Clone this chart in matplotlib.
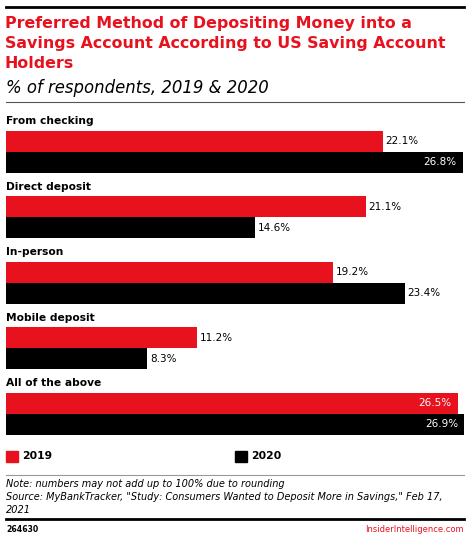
import matplotlib
matplotlib.use("Agg")
import matplotlib.pyplot as plt
from matplotlib.patches import Rectangle

# Dados do gráfico
categorias = ["From checking", "Direct deposit", "In-person", "Mobile deposit", "All of the above"]
valores_2019 = [22.1, 21.1, 19.2, 11.2, 26.5]
valores_2020 = [26.8, 14.6, 23.4, 8.3, 26.9]
anos = ["2019", "2020"]

titulo = ["Preferred Method of Depositing Money into a",
          "Savings Account According to US Saving Account",
          "Holders"]
subtitulo = "% of respondents, 2019 & 2020"
nota = ["Note: numbers may not add up to 100% due to rounding",
        'Source: MyBankTracker, "Study: Consumers Wanted to Deposit More in Savings," Feb 17,',
        "2021"]

VERMELHO = "#e8111e"
PRETO = "#000000"
W, H = 470, 539

plt.rcParams["font.family"] = ["DejaVu Sans"]

fig = plt.figure(figsize=(W / 100, H / 100), dpi=100)


def fx(px):
    return px / W


def fy(py):
    return 1 - py / H


# Eixo para as barras: x em %, y em pixels (de cima para baixo)
px_por_pct = 17.04
larg_ax = 460
ax = fig.add_axes([fx(6), 0, fx(larg_ax), 1])
ax.set_xlim(0, larg_ax / px_por_pct)
ax.set_ylim(H, 0)
ax.axis("off")

passo = 65.5
topo = 130.7
alt = 21
for i, cat in enumerate(categorias):
    y0 = topo + passo * i
    ax.text(0, y0 - 9.5, cat, fontsize=7.65, fontweight="bold", va="center", ha="left")
    for j, (vals, cor) in enumerate([(valores_2019, VERMELHO), (valores_2020, PRETO)]):
        v = vals[i]
        yc = y0 + alt / 2 + alt * j
        ax.barh(yc, v, height=alt, color=cor, edgecolor="none")
        if v > 25:
            ax.text(v - 6.5 / px_por_pct, yc, f"{v}%", color="white", fontsize=7.5,
                    va="center", ha="right")
        else:
            ax.text(v + 3 / px_por_pct, yc, f"{v}%", color="black", fontsize=7.5,
                    va="center", ha="left")

# Título e subtítulo
fig.add_artist(plt.Line2D([fx(6), fx(464)], [fy(6.5), fy(6.5)], color="black", lw=2))
for k, linha in enumerate(titulo):
    fig.text(fx(5), fy(23.5 + 20 * k), linha, color=VERMELHO, fontsize=11.45,
             fontweight="bold", va="center", ha="left")
fig.text(fx(6), fy(88), subtitulo, fontsize=11.9, fontstyle="italic",
         va="center", ha="left")
fig.add_artist(plt.Line2D([fx(6), fx(464)], [fy(102), fy(102)], color="#555555", lw=0.8))

# Legenda
for ano, cor, x0 in [(anos[0], VERMELHO, 6), (anos[1], PRETO, 235)]:
    fig.add_artist(Rectangle((fx(x0), fy(462)), fx(11.5), 11.5 / H, color=cor,
                             transform=fig.transFigure))
    fig.text(fx(x0 + 16), fy(456), ano, fontsize=7.8, fontweight="bold", va="center", ha="left")

# Rodapé
fig.add_artist(plt.Line2D([fx(6), fx(464)], [fy(474.5), fy(474.5)], color="#999999", lw=0.8))
for k, linha in enumerate(nota):
    fig.text(fx(6), fy(484 + 12.8 * k), linha, fontsize=7.0, fontstyle="italic",
             va="center", ha="left")
fig.add_artist(plt.Line2D([fx(6), fx(464)], [fy(518.5), fy(518.5)], color="black", lw=2))
fig.text(fx(6), fy(529), "264630", fontsize=5.6, fontweight="bold", va="center", ha="left")
fig.text(fx(464), fy(529), "InsiderIntelligence.com", fontsize=6.0, color=VERMELHO,
         va="center", ha="right")

fig.savefig("out.png", dpi=100)
